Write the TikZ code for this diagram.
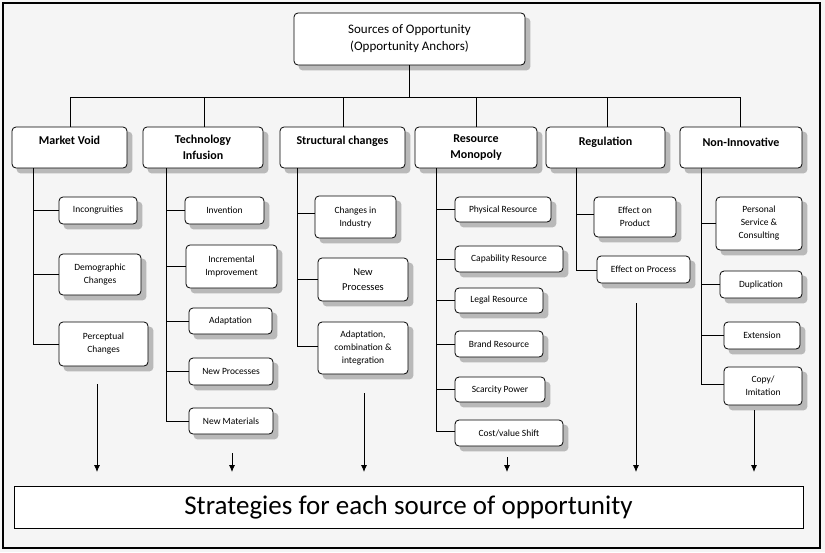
\documentclass[tikz,border=0pt]{standalone}
\usepackage{fontspec}
\setmainfont{Carlito}
\usetikzlibrary{arrows.meta,backgrounds,calc}
\pgfdeclarelayer{bottomlayer}
\pgfsetlayers{bottomlayer,background,main}
\begin{document}
\begin{tikzpicture}[x=1pt,y=-1pt,
 bx/.style={draw,thick,rounded corners=4pt,fill=white,align=center,inner sep=1pt},
 lv/.style={bx,font=\bfseries\fontsize{12}{16}\selectfont},
 lt/.style={font=\bfseries\fontsize{12}{16}\selectfont,inner sep=0pt},
 ch/.style={bx,font=\fontsize{9.5}{13}\selectfont},
 shd/.style={fill=gray!55,rounded corners=4pt},
 ln/.style={thick},
 ar/.style={thick,-{Latex[length=7pt,width=6pt]}}]
\begin{pgfonlayer}{bottomlayer}
\fill[gray!8] (0,0) rectangle (825,552);
\draw[line width=2pt] (3,3) rectangle (820,548);
\end{pgfonlayer}
\useasboundingbox (0,0) rectangle (825,552);
% top
\node[bx,font=\fontsize{13}{17}\selectfont,minimum width=231,minimum height=52] (top) at (409.5,39) {Sources of Opportunity\\(Opportunity Anchors)};
% level 1
\node[lv,minimum width=115,minimum height=41] (mv) at (69.5,147.5) {};
\node[lt] (mvt) at (69.5,140) {Market Void};
\node[lv,minimum width=120,minimum height=41] (ti) at (203,147.5) {Technology\\Infusion};
\node[lv,minimum width=125,minimum height=41] (sc) at (342.5,147.5) {};
\node[lt] (sct) at (342.5,141) {Structural changes};
\node[lv,minimum width=122,minimum height=41] (rm) at (476,147.5) {Resource\\Monopoly};
\node[lv,minimum width=119,minimum height=41] (rg) at (605.5,147.5) {};
\node[lt] (rgt) at (605.5,142) {Regulation};
\node[lv,minimum width=122,minimum height=41] (ni) at (741,147.5) {};
\node[lt] (nit) at (741,142) {Non-Innovative};
\draw[ln] (top.south) -- (409.5,97);
\draw[ln] (70,97) -- (740,97);
\foreach \n/\x in {mv/70,ti/204,sc/343,rm/476,rg/607,ni/740}
  \draw[ln] (\x,97) -- (\n.north -| \x,0);
% children: Market Void
\node[ch,minimum width=78,minimum height=27] (a1) at (98,210.5) {Incongruities};
\node[ch,minimum width=82,minimum height=41] (a2) at (100,274.5) {Demographic\\Changes};
\node[ch,minimum width=89,minimum height=44] (a3) at (103.5,344) {Perceptual\\Changes};
\draw[ln] (mv.south -| 33,0) -- (33,344) -- (a3.west);
\draw[ln] (33,210.5) -- (a1.west); \draw[ln] (33,274.5) -- (a2.west);
% Tech
\node[ch,minimum width=79,minimum height=27] (b1) at (224.5,210.5) {Invention};
\node[ch,minimum width=91,minimum height=43] (b2) at (231.5,266.5) {Incremental\\Improvement};
\node[ch,minimum width=83,minimum height=26] (b3) at (230.5,321) {Adaptation};
\node[ch,minimum width=84,minimum height=27] (b4) at (231,371.5) {New Processes};
\node[ch,minimum width=84,minimum height=26] (b5) at (231,421) {New Materials};
\draw[ln] (ti.south -| 166,0) -- (166,421) -- (b5.west);
\foreach \b in {b1,b2,b3,b4} \draw[ln] (\b.west -| 166,0) -- (\b.west);
% Structural
\node[ch,minimum width=81,minimum height=42] (c1) at (355.5,217) {Changes in\\Industry};
\node[ch,minimum width=90,minimum height=43,font=\fontsize{10.5}{15}\selectfont] (c2) at (363,279.5) {New\\Processes};
\node[ch,minimum width=90,minimum height=52] (c3) at (363,348) {Adaptation,\\combination \&\\integration};
\draw[ln] (sc.south -| 297,0) -- (297,346) -- (c3.west |- 0,346);
\draw[ln] (297,213) -- (c1.west |- 0,213); \draw[ln] (297,279.5) -- (c2.west);
% Resource
\node[ch,minimum width=96,minimum height=25] (d1) at (503,209.5) {Physical Resource};
\node[ch,minimum width=108,minimum height=26] (d2) at (509,259) {Capability Resource};
\node[ch,minimum width=88,minimum height=25] (d3) at (499,300.5) {Legal Resource};
\node[ch,minimum width=88,minimum height=26] (d4) at (499,344) {Brand Resource};
\node[ch,minimum width=90,minimum height=25] (d5) at (500,389.5) {Scarcity Power};
\node[ch,minimum width=108,minimum height=26] (d6) at (509,433) {Cost/value Shift};
\draw[ln] (rm.south -| 436,0) -- (436,431) -- (d6.west |- 0,431);
\foreach \b in {d1,d2,d3,d4,d5} \draw[ln] (\b.west -| 436,0) -- (\b.west);
% Regulation
\node[ch,minimum width=82,minimum height=40] (e1) at (635,217) {Effect on\\Product};
\node[ch,minimum width=93,minimum height=27] (e2) at (643.5,269.5) {Effect on Process};
\draw[ln] (rg.south -| 576,0) -- (576,270) -- (e2.west |- 0,270);
\draw[ln] (576,214) -- (e1.west |- 0,214);
% Non-innovative
\node[ch,minimum width=86,minimum height=53] (f1) at (759,223.5) {Personal\\Service \&\\Consulting};
\node[ch,minimum width=82,minimum height=27] (f2) at (761,284.5) {Duplication};
\node[ch,minimum width=76,minimum height=27] (f3) at (762,335.5) {Extension};
\node[ch,minimum width=78,minimum height=38] (f4) at (763,386) {Copy/\\Imitation};
\draw[ln] (ni.south -| 701,0) -- (701,384) -- (f4.west |- 0,384);
\foreach \b in {f1,f2,f3} \draw[ln] (\b.west -| 701,0) -- (\b.west);
% shadows
\begin{pgfonlayer}{background}
\foreach \n in {top,mv,ti,sc,rm,rg,ni,a1,a2,a3,b1,b2,b3,b4,b5,c1,c2,c3,d1,d2,d3,d4,d5,d6,e1,e2,f1,f2,f3,f4}
  \fill[shd] ($(\n.south west)+(5,5)$) rectangle ($(\n.north east)+(5,5)$);
\end{pgfonlayer}
% bottom
\node[draw,thick,fill=white,minimum width=789,minimum height=42,font=\fontsize{27}{30}\selectfont] (st) at (408.5,507) {Strategies for each source of opportunity};
\foreach \x/\y in {97/384,232/453,364/393,507/457,636/303,754/410}{
  \coordinate (s\x) at (\x,\y);
  \coordinate (t\x) at (\x,472);
  \draw[ar] (s\x) -- (t\x);}
\end{tikzpicture}
\end{document}
